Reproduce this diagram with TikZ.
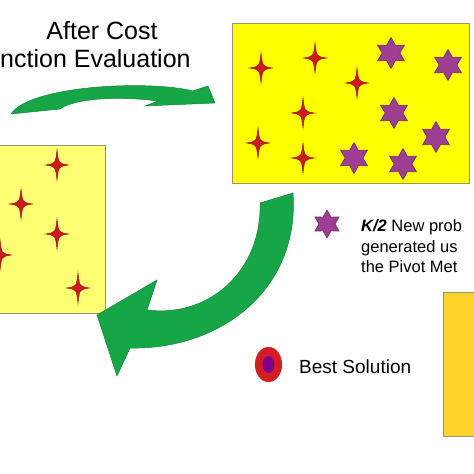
\documentclass[tikz,border=0pt]{standalone}
\usepackage{fontspec}
\setmainfont{Liberation Sans}
\usetikzlibrary{shapes.geometric}
\definecolor{boxyellow}{RGB}{255,255,0}
\definecolor{paleyellow}{RGB}{255,255,115}
\definecolor{boxgold}{RGB}{255,212,42}
\definecolor{boxedge}{RGB}{150,150,110}
\definecolor{sparkred}{RGB}{204,26,30}
\definecolor{sparkedge}{RGB}{150,20,20}
\definecolor{probpurple}{RGB}{158,62,146}
\definecolor{probedge}{RGB}{110,40,100}
\definecolor{arrowgreen}{RGB}{22,166,72}
\definecolor{bestred}{RGB}{212,30,36}
\definecolor{bestpurple}{RGB}{128,0,140}
\tikzset{
    population/.style = {draw=boxedge, line width=0.8bp, inner sep=0pt},
    new prob/.style = {star, star points=6, star point ratio=1.75,
                       minimum size=31bp, inner sep=0pt,
                       fill=probpurple, draw=probedge, line width=0.6bp
    },
    spark/.pic = {
        \filldraw[fill=sparkred, draw=sparkedge, line width=0.5bp]
            (0,-15) .. controls (1.5,-1.5) .. (11.5,0)
                    .. controls (1.5,1.5) .. (0,15)
                    .. controls (-1.5,1.5) .. (-11.5,0)
                    .. controls (-1.5,-1.5) .. cycle;
    },
    big arrow/.style = {fill=arrowgreen, draw=arrowgreen!80!black, line width=0.5bp},
    caption/.style = {inner sep=0pt, anchor=base west},
}

\begin{document}
\begin{tikzpicture}[x=1bp, y=-1bp]
        \useasboundingbox (0,0) rectangle (474,474);
        \clip (0,0) rectangle (474,474);
        % populations
        \node (before) [population, fill=paleyellow, anchor=north east,
                        minimum width=140bp, minimum height=168bp] at (106,145) {};
        \node (after) [population, fill=boxyellow, anchor=north west,
                       minimum width=237bp, minimum height=160bp] at (232,23) {};
        \node (next) [population, fill=boxgold, anchor=north west,
                      minimum width=60bp, minimum height=144bp] at (443,292) {};
        % old solutions
        \pic at (57,165) {spark};
        \pic at (21,204) {spark};
        \pic at (57,234) {spark};
        \pic at (0,255) {spark};
        \pic at (78,288) {spark};
        \pic at (261,68) {spark};
        \pic at (315,58) {spark};
        \pic at (357,83) {spark};
        \pic at (303,113) {spark};
        \pic at (258,143) {spark};
        \pic at (303,158) {spark};
        % new solutions
        \node (p1) [new prob] at (391,53) {};
        \node (p2) [new prob] at (448,65) {};
        \node (p3) [new prob] at (394,113) {};
        \node (p4) [new prob] at (436,137) {};
        \node (p5) [new prob] at (354,158) {};
        \node (p6) [new prob] at (403,164) {};
        % arrows
        \draw[big arrow] (11,114) .. controls (30,85) and (150,80) .. (193,91)
            -- (208,86) -- (215,103) -- (145,106) -- (158,101)
            .. controls (120,96) and (75,98) .. (60,109) -- cycle;
        \draw[big arrow] (260,203) -- (293,193)
            .. controls (300,290) and (220,350) .. (130,348)
            -- (117,376) -- (97,315) -- (157,280) -- (147,310)
            .. controls (210,318) and (262,270) .. (260,203) -- cycle;
        % texts
        \node (t1) [inner sep=0pt, anchor=base, font=\fontsize{25bp}{28bp}\selectfont]
                   at (102,40) {After Cost};
        \node (t2) [caption, font=\fontsize{25bp}{28bp}\selectfont]
                   at (0,68) {nction Evaluation};
        % legend
        \node (lp) [new prob, minimum size=28bp] at (327,224) {};
        \node (lt) [caption, align=left, font=\fontsize{16.5bp}{20bp}\selectfont]
                   at (361,272) {\textbf{\textit{K/2}} New prob\\generated us\\the Pivot Met};
        \node (best) [ellipse, minimum width=27bp, minimum height=35bp, inner sep=0pt,
                      fill=bestred, draw=bestred!75!black, densely dotted] at (268.5,364.5) {};
        \node (core) [ellipse, minimum width=12bp, minimum height=17bp, inner sep=0pt,
                      fill=bestpurple] at (best.center) {};
        \node (bt) [caption, font=\fontsize{19bp}{22bp}\selectfont]
                   at (299,373) {Best Solution};
\end{tikzpicture}
\end{document}
